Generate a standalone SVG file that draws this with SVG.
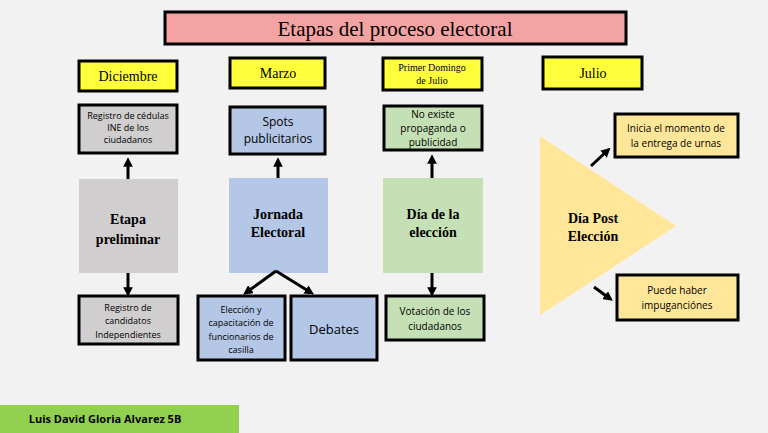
<svg xmlns="http://www.w3.org/2000/svg" width="768" height="433" viewBox="0 0 768 433">
<defs>
<style>
.s{font-family:"Liberation Serif",serif;fill:#000;text-anchor:middle}
.n{font-family:"Open Sans","Noto Sans",sans-serif;fill:#000;text-anchor:middle}
.b{stroke:#000;stroke-width:3}
.c{stroke:#000;stroke-width:3;fill:none;marker-end:url(#a)}
</style>
<marker id="a" viewBox="0 0 10 10" refX="5" refY="5" markerWidth="3.2" markerHeight="3.2" orient="auto"><path d="M0,0L10,5L0,10z" fill="#000"/></marker>
</defs>
<rect width="768" height="433" fill="#f2f2f2"/>
<g id="title"><rect class="b" x="165" y="12" width="461" height="32" fill="#f4a3a3"/><text class="s" x="395" y="36" font-size="21">Etapas del proceso electoral</text></g>
<g id="dic"><rect class="b" x="79" y="61" width="98" height="30" fill="#ffff3c"/><text class="s" x="128" y="81" font-size="14">Diciembre</text></g>
<g id="mar"><rect class="b" x="230" y="58" width="95" height="30" fill="#ffff3c"/><text class="s" x="278" y="78" font-size="14">Marzo</text></g>
<g id="pdj"><rect class="b" x="383" y="58" width="99" height="32" fill="#ffff3c"/><text class="s" x="432" y="71" font-size="10">Primer Domingo</text><text class="s" x="432" y="84" font-size="10">de Julio</text></g>
<g id="jul"><rect class="b" x="543" y="57" width="99" height="32" fill="#ffff3c"/><text class="s" x="593" y="78" font-size="14">Julio</text></g>
<g id="reg1"><rect class="b" x="79" y="105" width="98" height="48" fill="#d0cece"/><text class="n" font-size="9"><tspan x="128" y="119">Registro de cédulas</tspan><tspan x="128" y="131">INE de los</tspan><tspan x="128" y="143">ciudadanos</tspan></text></g>
<g id="spots"><rect class="b" x="230" y="107" width="95" height="47" fill="#b4c7e7"/><text class="n" font-size="12"><tspan x="278" y="126">Spots</tspan><tspan x="278" y="143">publicitarios</tspan></text></g>
<g id="noexiste"><rect class="b" x="384" y="106" width="98" height="44" fill="#c5e0b4"/><text class="n" font-size="10"><tspan x="433" y="118">No existe</tspan><tspan x="433" y="132">propaganda o</tspan><tspan x="433" y="146">publicidad</tspan></text></g>
<g id="etapa"><rect x="79" y="179" width="99" height="94" fill="#d0cece"/><text class="s" font-size="14" font-weight="bold"><tspan x="128" y="224">Etapa</tspan><tspan x="128" y="244">preliminar</tspan></text></g>
<g id="jornada"><rect x="229" y="178" width="99" height="95" fill="#b4c7e7"/><text class="s" font-size="14" font-weight="bold"><tspan x="278" y="219">Jornada</tspan><tspan x="278" y="237">Electoral</tspan></text></g>
<g id="dia"><rect x="383" y="178" width="100" height="95" fill="#c5e0b4"/><text class="s" font-size="14" font-weight="bold"><tspan x="433" y="219">Día de la</tspan><tspan x="433" y="237">elección</tspan></text></g>
<g id="post"><path d="M540,136L676,226L540,315z" fill="#ffe699"/><text class="s" font-size="14" font-weight="bold"><tspan x="593" y="223">Día Post</tspan><tspan x="593" y="241">Elección</tspan></text></g>
<g id="reg2"><rect class="b" x="79" y="296" width="99" height="48" fill="#d0cece"/><text class="n" font-size="9"><tspan x="128" y="311">Registro de</tspan><tspan x="128" y="324">candidatos</tspan><tspan x="128" y="338">Independientes</tspan></text></g>
<g id="eleccion"><rect class="b" x="198" y="296" width="87" height="64" fill="#b4c7e7"/><text class="n" font-size="9"><tspan x="241" y="313">Elección y</tspan><tspan x="241" y="326">capacitación de</tspan><tspan x="241" y="340">funcionarios de</tspan><tspan x="241" y="353">casilla</tspan></text></g>
<g id="debates"><rect class="b" x="291" y="296" width="86" height="64" fill="#b4c7e7"/><text class="n" x="334" y="334" font-size="13">Debates</text></g>
<g id="votacion"><rect class="b" x="386" y="296" width="98" height="44" fill="#c5e0b4"/><text class="n" font-size="10"><tspan x="435" y="315">Votación de los</tspan><tspan x="435" y="330">ciudadanos</tspan></text></g>
<g id="inicia"><rect class="b" x="615" y="114" width="123" height="43" fill="#ffe699"/><text class="n" font-size="10"><tspan x="676" y="132">Inicia el momento de</tspan><tspan x="676" y="147">la entrega de urnas</tspan></text></g>
<g id="puede"><rect class="b" x="617" y="275" width="121" height="45" fill="#ffe699"/><text class="n" font-size="10"><tspan x="677" y="294">Puede haber</tspan><tspan x="677" y="309">impuganciónes</tspan></text></g>
<g id="author"><rect x="0" y="405" width="239" height="28" fill="#92d050"/><text class="n" x="105" y="423" font-size="11" font-weight="bold">Luis David Gloria Alvarez 5B</text></g>
<g id="connectors">
<path class="c" d="M128,179V162"/>
<path class="c" d="M128,273V292"/>
<path class="c" d="M278,178V162"/>
<path class="c" d="M276,271L247,292"/>
<path class="c" d="M276,271L310,292"/>
<path class="c" d="M432,178V159"/>
<path class="c" d="M432,273V292"/>
<path class="c" d="M591,166L607,151"/>
<path class="c" d="M594,287L609,298"/>
</g>
</svg>
